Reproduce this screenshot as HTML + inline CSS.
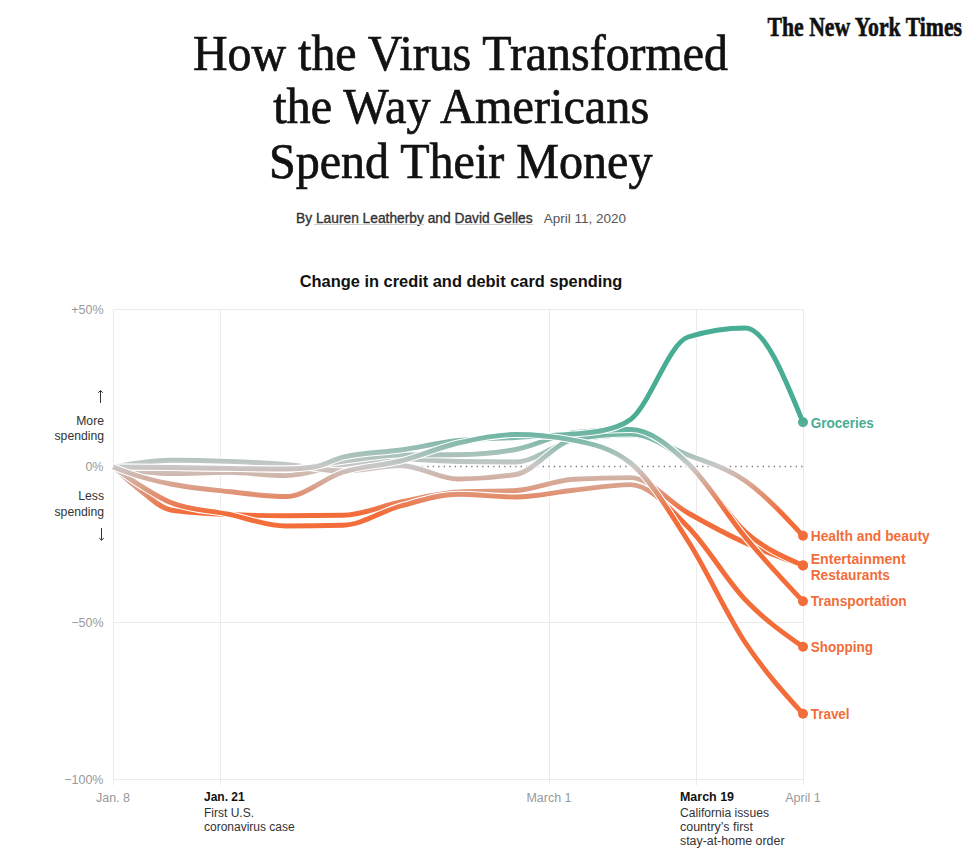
<!DOCTYPE html>
<html><head><meta charset="utf-8">
<style>
html,body{margin:0;padding:0;background:#fff;width:977px;height:860px;overflow:hidden}
svg{display:block}
</style></head>
<body>
<svg width="977" height="860" viewBox="0 0 977 860">
<defs>
<linearGradient id="grad" gradientUnits="userSpaceOnUse" x1="0" y1="419" x2="0" y2="513">
<stop offset="0" stop-color="#48ad94"/>
<stop offset="0.5" stop-color="#c8c8c8"/>
<stop offset="1" stop-color="#f26d3a"/>
</linearGradient>
</defs>
<!-- logo -->
<text x="767.5" y="36" font-family="'Liberation Serif', serif" font-weight="bold" font-size="27" textLength="194.5" lengthAdjust="spacingAndGlyphs" fill="#111" stroke="#111" stroke-width="0.6">The New York Times</text>
<!-- title -->
<g font-family="'Liberation Serif', serif" font-size="50" fill="#121212" stroke="#121212" stroke-width="0.7" text-anchor="middle">
<text x="460.5" y="70.2" textLength="535" lengthAdjust="spacingAndGlyphs">How the Virus Transformed</text>
<text x="461.2" y="123.2" textLength="376" lengthAdjust="spacingAndGlyphs">the Way Americans</text>
<text x="460.7" y="177.6" textLength="383.5" lengthAdjust="spacingAndGlyphs">Spend Their Money</text>
</g>
<!-- byline -->
<g font-family="'Liberation Sans', sans-serif" font-size="14" fill="#333" stroke="#333" stroke-width="0.35">
<text x="296" y="222.9" textLength="236.6" lengthAdjust="spacingAndGlyphs">By Lauren Leatherby and David Gelles</text>
</g>
<text x="543.7" y="222.5" font-family="'Liberation Sans', sans-serif" font-size="13.5" fill="#555" textLength="82.3" lengthAdjust="spacingAndGlyphs">April 11, 2020</text>
<rect x="314" y="224" width="110" height="1" fill="#ccc"/>
<rect x="456" y="224" width="77" height="1" fill="#ccc"/>
<!-- chart title -->
<text x="299.7" y="286.9" font-family="'Liberation Sans', sans-serif" font-weight="bold" font-size="16.5" fill="#121212" textLength="322.6" lengthAdjust="spacingAndGlyphs">Change in credit and debit card spending</text>
<!-- grid -->
<g fill="#ebebeb">
<rect x="113" y="309" width="691" height="1"/>
<rect x="113" y="622" width="691" height="1"/>
<rect x="113" y="779" width="691" height="1"/>
<rect x="113" y="309" width="1" height="476"/>
<rect x="220" y="309" width="1" height="476"/>
<rect x="549" y="309" width="1" height="476"/>
<rect x="696" y="309" width="1" height="476"/>
<rect x="803" y="309" width="1" height="476"/>
</g>
<line x1="113.7" y1="466.5" x2="803" y2="466.5" stroke="#777" stroke-width="1.3" stroke-dasharray="1.3 4.2"/>
<!-- y labels -->
<g font-family="'Liberation Sans', sans-serif" font-size="12.5" fill="#999" text-anchor="end">
<text x="103.5" y="314">+50%</text>
<text x="103.5" y="470.5">0%</text>
<text x="103.5" y="627">−50%</text>
<text x="103.5" y="784">−100%</text>
</g>
<g font-family="'Liberation Sans', sans-serif" font-size="12.2" fill="#333" text-anchor="end">
<text x="104" y="425.1">More</text>
<text x="104" y="440.3">spending</text>
<text x="104" y="500">Less</text>
<text x="104" y="515.5">spending</text>
</g>
<path d="M100.5,390.5V403M98.2,392.8L100.5,390.5L102.8,392.8" stroke="#333" stroke-width="1" fill="none"/>
<path d="M101.5,528V540.3M99.2,538L101.5,540.3L103.8,538" stroke="#333" stroke-width="1" fill="none"/>
<!-- x labels -->
<g font-family="'Liberation Sans', sans-serif" font-size="12.5" fill="#999" text-anchor="middle">
<text x="113" y="802">Jan. 8</text>
<text x="549" y="802">March 1</text>
<text x="803" y="802">April 1</text>
</g>
<g font-family="'Liberation Sans', sans-serif" font-size="12" fill="#333">
<text x="204" y="800.8" font-weight="bold" fill="#121212">Jan. 21</text>
<text x="204" y="816.5">First U.S.</text>
<text x="204" y="830.6">coronavirus case</text>
<text x="680" y="800.8" font-weight="bold" fill="#121212" textLength="54" lengthAdjust="spacingAndGlyphs">March 19</text>
<text x="680" y="816.5" textLength="89" lengthAdjust="spacingAndGlyphs">California issues</text>
<text x="680" y="830.6" textLength="73" lengthAdjust="spacingAndGlyphs">country’s first</text>
<text x="680" y="844.7" textLength="104.5" lengthAdjust="spacingAndGlyphs">stay-at-home order</text>
</g>
<!-- lines -->
<path d="M113.30,467.00C122.77,475.70,132.23,484.39,141.70,491.50C151.39,498.78,161.08,508.48,170.78,510.00C189.93,513.00,209.09,513.70,228.25,514.50C247.41,515.30,266.57,515.70,285.73,515.70C304.88,515.70,324.04,515.57,343.20,515.30C362.36,515.03,381.52,505.88,400.68,502.00C419.83,498.12,438.99,493.00,458.15,492.00C477.31,491.00,496.47,491.50,515.62,490.50C534.78,489.50,553.94,480.43,573.10,479.30C592.26,478.17,611.42,477.60,630.57,477.60C649.73,477.60,668.89,502.10,688.05,513.00C707.21,523.90,726.37,534.27,745.52,543.00C764.68,551.73,783.84,558.57,803.00,565.40" stroke="#fff" stroke-width="7" fill="none" stroke-linejoin="round" />
<path d="M113.30,467.00C122.77,475.70,132.23,484.39,141.70,491.50C151.39,498.78,161.08,508.48,170.78,510.00C189.93,513.00,209.09,513.70,228.25,514.50C247.41,515.30,266.57,515.70,285.73,515.70C304.88,515.70,324.04,515.57,343.20,515.30C362.36,515.03,381.52,505.88,400.68,502.00C419.83,498.12,438.99,493.00,458.15,492.00C477.31,491.00,496.47,491.50,515.62,490.50C534.78,489.50,553.94,480.43,573.10,479.30C592.26,478.17,611.42,477.60,630.57,477.60C649.73,477.60,668.89,502.10,688.05,513.00C707.21,523.90,726.37,534.27,745.52,543.00C764.68,551.73,783.84,558.57,803.00,565.40" stroke="url(#grad)" stroke-width="4.9" fill="none" stroke-linejoin="round" />
<path d="M113.30,467.00C122.77,473.77,132.23,480.54,141.70,486.40C151.39,492.40,161.08,498.55,170.78,502.50C189.93,510.30,209.09,510.28,228.25,514.20C247.41,518.12,266.57,526.00,285.73,526.00C304.88,526.00,324.04,525.73,343.20,525.20C362.36,524.67,381.52,511.17,400.68,506.00C419.83,500.83,438.99,494.20,458.15,494.20C477.31,494.20,496.47,497.00,515.62,497.00C534.78,497.00,553.94,492.37,573.10,490.30C592.26,488.23,611.42,484.60,630.57,484.60C649.73,484.60,668.89,507.77,688.05,527.00C707.21,546.23,726.37,580.03,745.52,600.00C764.68,619.97,783.84,633.38,803.00,646.80" stroke="#fff" stroke-width="7" fill="none" stroke-linejoin="round" />
<path d="M113.30,467.00C122.77,473.77,132.23,480.54,141.70,486.40C151.39,492.40,161.08,498.55,170.78,502.50C189.93,510.30,209.09,510.28,228.25,514.20C247.41,518.12,266.57,526.00,285.73,526.00C304.88,526.00,324.04,525.73,343.20,525.20C362.36,524.67,381.52,511.17,400.68,506.00C419.83,500.83,438.99,494.20,458.15,494.20C477.31,494.20,496.47,497.00,515.62,497.00C534.78,497.00,553.94,492.37,573.10,490.30C592.26,488.23,611.42,484.60,630.57,484.60C649.73,484.60,668.89,507.77,688.05,527.00C707.21,546.23,726.37,580.03,745.52,600.00C764.68,619.97,783.84,633.38,803.00,646.80" stroke="url(#grad)" stroke-width="4.9" fill="none" stroke-linejoin="round" />
<path d="M113.30,467.00C132.46,470.25,151.62,473.50,170.78,473.50C189.93,473.50,209.09,472.40,228.25,472.40C247.41,472.40,266.57,475.60,285.73,475.60C304.88,475.60,324.04,467.47,343.20,464.70C362.36,461.93,381.52,459.00,400.68,459.00C419.83,459.00,438.99,461.17,458.15,461.50C477.31,461.83,496.47,462.00,515.62,462.00C534.78,462.00,553.94,444.17,573.10,440.50C592.26,436.83,611.42,435.00,630.57,435.00C649.73,435.00,668.89,447.33,688.05,455.00C707.21,462.67,726.37,467.53,745.52,481.00C764.68,494.47,783.84,515.13,803.00,535.80" stroke="#fff" stroke-width="7" fill="none" stroke-linejoin="round" />
<path d="M113.30,467.00C132.46,470.25,151.62,473.50,170.78,473.50C189.93,473.50,209.09,472.40,228.25,472.40C247.41,472.40,266.57,475.60,285.73,475.60C304.88,475.60,324.04,467.47,343.20,464.70C362.36,461.93,381.52,459.00,400.68,459.00C419.83,459.00,438.99,461.17,458.15,461.50C477.31,461.83,496.47,462.00,515.62,462.00C534.78,462.00,553.94,444.17,573.10,440.50C592.26,436.83,611.42,435.00,630.57,435.00C649.73,435.00,668.89,447.33,688.05,455.00C707.21,462.67,726.37,467.53,745.52,481.00C764.68,494.47,783.84,515.13,803.00,535.80" stroke="url(#grad)" stroke-width="4.9" fill="none" stroke-linejoin="round" />
<path d="M113.30,467.00C132.46,463.65,151.62,460.30,170.78,460.30C189.93,460.30,209.09,460.70,228.25,461.40C247.41,462.10,266.57,462.90,285.73,464.50C304.88,466.10,324.04,471.00,343.20,471.00C362.36,471.00,381.52,465.50,400.68,465.50C419.83,465.50,438.99,479.00,458.15,479.00C477.31,479.00,496.47,477.50,515.62,474.50C534.78,471.50,553.94,443.17,573.10,439.50C592.26,435.83,611.42,434.00,630.57,434.00C649.73,434.00,668.89,447.17,688.05,463.50C707.21,479.83,726.37,515.02,745.52,532.00C764.68,548.98,783.84,557.19,803.00,565.40" stroke="#fff" stroke-width="7" fill="none" stroke-linejoin="round" />
<path d="M113.30,467.00C132.46,463.65,151.62,460.30,170.78,460.30C189.93,460.30,209.09,460.70,228.25,461.40C247.41,462.10,266.57,462.90,285.73,464.50C304.88,466.10,324.04,471.00,343.20,471.00C362.36,471.00,381.52,465.50,400.68,465.50C419.83,465.50,438.99,479.00,458.15,479.00C477.31,479.00,496.47,477.50,515.62,474.50C534.78,471.50,553.94,443.17,573.10,439.50C592.26,435.83,611.42,434.00,630.57,434.00C649.73,434.00,668.89,447.17,688.05,463.50C707.21,479.83,726.37,515.02,745.52,532.00C764.68,548.98,783.84,557.19,803.00,565.40" stroke="url(#grad)" stroke-width="4.9" fill="none" stroke-linejoin="round" />
<path d="M113.30,467.00C132.46,467.13,151.62,467.27,170.78,467.50C189.93,467.73,209.09,468.15,228.25,468.40C247.41,468.65,266.57,469.00,285.73,469.00C304.88,469.00,324.04,463.63,343.20,461.30C362.36,458.97,381.52,455.20,400.68,455.00C419.83,454.80,438.99,454.90,458.15,454.70C477.31,454.50,496.47,452.97,515.62,449.50C534.78,446.03,553.94,434.83,573.10,432.70C592.26,430.57,611.42,429.50,630.57,429.50C649.73,429.50,668.89,445.50,688.05,463.50C707.21,481.50,726.37,514.53,745.52,537.50C764.68,560.47,783.84,580.88,803.00,601.30" stroke="#fff" stroke-width="7" fill="none" stroke-linejoin="round" />
<path d="M113.30,467.00C132.46,467.13,151.62,467.27,170.78,467.50C189.93,467.73,209.09,468.15,228.25,468.40C247.41,468.65,266.57,469.00,285.73,469.00C304.88,469.00,324.04,463.63,343.20,461.30C362.36,458.97,381.52,455.20,400.68,455.00C419.83,454.80,438.99,454.90,458.15,454.70C477.31,454.50,496.47,452.97,515.62,449.50C534.78,446.03,553.94,434.83,573.10,432.70C592.26,430.57,611.42,429.50,630.57,429.50C649.73,429.50,668.89,445.50,688.05,463.50C707.21,481.50,726.37,514.53,745.52,537.50C764.68,560.47,783.84,580.88,803.00,601.30" stroke="url(#grad)" stroke-width="4.9" fill="none" stroke-linejoin="round" />
<path d="M113.30,467.00C132.46,467.13,151.62,467.27,170.78,467.50C189.93,467.73,209.09,468.15,228.25,468.40C247.41,468.65,266.57,469.00,285.73,469.00C295.15,469.00,304.57,468.33,314.00,467.00C323.73,465.62,333.47,459.50,343.20,457.10C362.36,452.37,381.52,452.77,400.68,450.00C419.83,447.23,438.99,442.50,458.15,440.50C477.31,438.50,496.47,438.58,515.62,437.50C534.78,436.42,553.94,435.87,573.10,434.00C583.07,433.02,593.03,432.83,603.00,430.50C612.19,428.35,621.38,426.26,630.57,419.50C649.73,405.42,668.89,343.00,688.05,337.00C707.21,331.00,726.37,328.00,745.52,328.00C764.68,328.00,783.84,375.15,803.00,422.30" stroke="#fff" stroke-width="7" fill="none" stroke-linejoin="round" />
<path d="M113.30,467.00C132.46,467.13,151.62,467.27,170.78,467.50C189.93,467.73,209.09,468.15,228.25,468.40C247.41,468.65,266.57,469.00,285.73,469.00C295.15,469.00,304.57,468.33,314.00,467.00C323.73,465.62,333.47,459.50,343.20,457.10C362.36,452.37,381.52,452.77,400.68,450.00C419.83,447.23,438.99,442.50,458.15,440.50C477.31,438.50,496.47,438.58,515.62,437.50C534.78,436.42,553.94,435.87,573.10,434.00C583.07,433.02,593.03,432.83,603.00,430.50C612.19,428.35,621.38,426.26,630.57,419.50C649.73,405.42,668.89,343.00,688.05,337.00C707.21,331.00,726.37,328.00,745.52,328.00C764.68,328.00,783.84,375.15,803.00,422.30" stroke="url(#grad)" stroke-width="4.9" fill="none" stroke-linejoin="round" />
<path d="M113.30,467.00C122.77,470.59,132.23,474.19,141.70,477.00C151.39,479.88,161.08,482.03,170.78,484.00C189.93,487.90,209.09,489.42,228.25,491.50C247.41,493.58,266.57,496.50,285.73,496.50C304.88,496.50,324.04,477.92,343.20,472.00C362.36,466.08,381.52,465.83,400.68,461.00C419.83,456.17,438.99,447.42,458.15,443.00C477.31,438.58,496.47,434.50,515.62,434.50C534.78,434.50,553.94,436.37,573.10,440.10C592.26,443.83,611.42,447.73,630.57,463.00C649.73,478.27,668.89,511.00,688.05,541.00C707.21,571.00,726.37,614.20,745.52,643.00C764.68,671.80,783.84,692.80,803.00,713.80" stroke="#fff" stroke-width="7" fill="none" stroke-linejoin="round" />
<path d="M113.30,467.00C122.77,470.59,132.23,474.19,141.70,477.00C151.39,479.88,161.08,482.03,170.78,484.00C189.93,487.90,209.09,489.42,228.25,491.50C247.41,493.58,266.57,496.50,285.73,496.50C304.88,496.50,324.04,477.92,343.20,472.00C362.36,466.08,381.52,465.83,400.68,461.00C419.83,456.17,438.99,447.42,458.15,443.00C477.31,438.58,496.47,434.50,515.62,434.50C534.78,434.50,553.94,436.37,573.10,440.10C592.26,443.83,611.42,447.73,630.57,463.00C649.73,478.27,668.89,511.00,688.05,541.00C707.21,571.00,726.37,614.20,745.52,643.00C764.68,671.80,783.84,692.80,803.00,713.80" stroke="url(#grad)" stroke-width="4.9" fill="none" stroke-linejoin="round" />

<circle cx="803" cy="565.4" r="5" fill="url(#grad)"/>
<circle cx="803" cy="646.8" r="5" fill="url(#grad)"/>
<circle cx="803" cy="535.8" r="5" fill="url(#grad)"/>
<circle cx="803" cy="565.4" r="5" fill="url(#grad)"/>
<circle cx="803" cy="601.3" r="5" fill="url(#grad)"/>
<circle cx="803" cy="422.3" r="5" fill="url(#grad)"/>
<circle cx="803" cy="713.8" r="5" fill="url(#grad)"/>

<!-- right labels -->
<g font-family="'Liberation Sans', sans-serif" font-weight="bold" font-size="14">
<text x="810.7" y="427.5" fill="#48ad94" textLength="63.1" lengthAdjust="spacingAndGlyphs">Groceries</text>
<text x="810.7" y="540.8" fill="#f26d3a" textLength="119" lengthAdjust="spacingAndGlyphs">Health and beauty</text>
<text x="810.7" y="564.4" fill="#f26d3a" textLength="95" lengthAdjust="spacingAndGlyphs">Entertainment</text>
<text x="810.7" y="579.5" fill="#f26d3a" textLength="79.3" lengthAdjust="spacingAndGlyphs">Restaurants</text>
<text x="810.7" y="605.7" fill="#f26d3a" textLength="96" lengthAdjust="spacingAndGlyphs">Transportation</text>
<text x="810.7" y="651.5" fill="#f26d3a" textLength="62.2" lengthAdjust="spacingAndGlyphs">Shopping</text>
<text x="810.7" y="719" fill="#f26d3a" textLength="38.9" lengthAdjust="spacingAndGlyphs">Travel</text>
</g>
</svg>
</body></html>
